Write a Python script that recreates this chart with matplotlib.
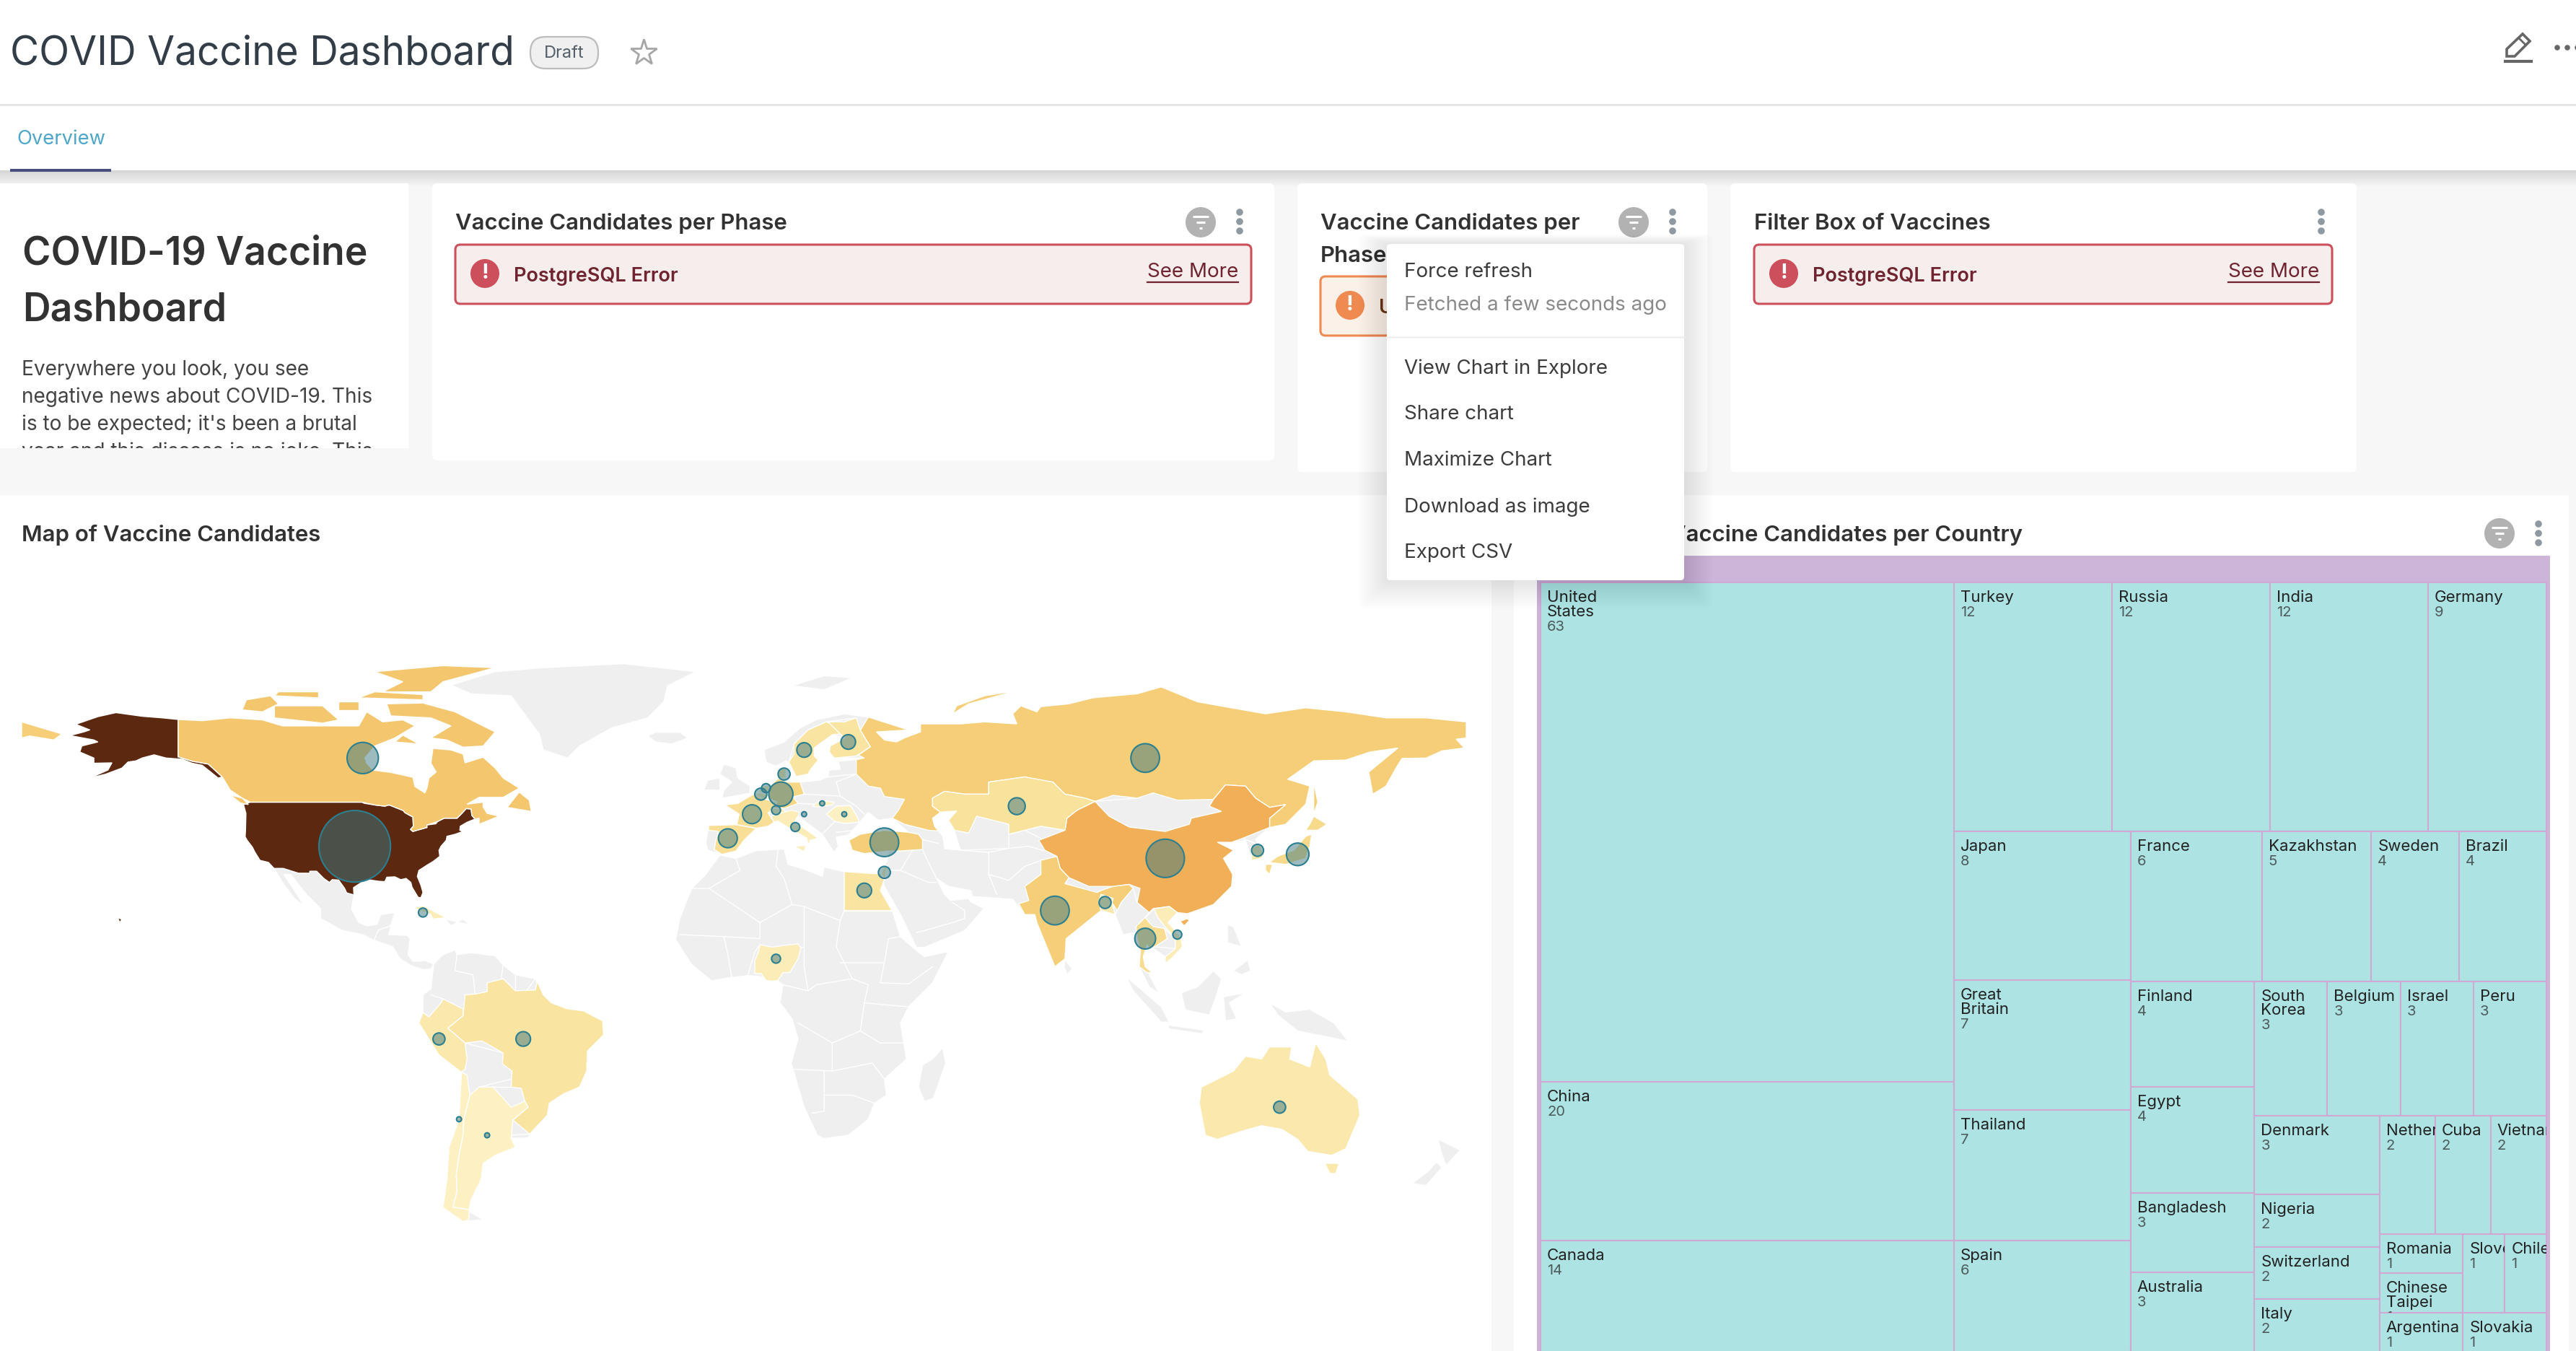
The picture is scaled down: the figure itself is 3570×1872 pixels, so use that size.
import matplotlib
matplotlib.use("Agg")
import matplotlib.pyplot as plt
from matplotlib.patches import Rectangle, FancyBboxPatch, Circle, Polygon
from matplotlib.colors import LinearSegmentedColormap
import numpy as np

plt.rcParams['font.family'] = ['Inter', 'DejaVu Sans']

# --- treemap data (sorted the way the chart sorts them) ---
countries = ["United States", "China", "Canada", "Turkey", "Russia", "India", "Germany",
             "Japan", "Great Britain", "Thailand", "Spain", "France", "Kazakhstan", "Sweden", "Brazil",
             "Finland", "Egypt", "Bangladesh", "Australia", "South Korea", "Belgium", "Israel", "Peru",
             "Denmark", "Nigeria", "Switzerland", "Italy", "Netherlands", "Cuba", "Vietnam",
             "Romania", "Chinese Taipei", "Argentina", "Slovenia", "Chile", "Slovakia"]
candidates = [63, 20, 14, 12, 12, 12, 9, 8, 7, 7, 6, 6, 5, 4, 4, 4, 4, 3, 3, 3, 3, 3, 3,
              3, 2, 2, 2, 2, 2, 2, 1, 1, 1, 1, 1, 1]
counts = dict(zip(countries, candidates))

# --- bubble centres, lon / lat ---
bubble_names = ["United States", "China", "Canada", "Turkey", "Russia", "India", "Germany", "Japan",
                "Thailand", "Spain", "France", "Kazakhstan", "Sweden", "Brazil", "Finland", "Egypt",
                "Bangladesh", "Australia", "South Korea", "Belgium", "Israel", "Peru", "Denmark",
                "Nigeria", "Switzerland", "Italy", "Netherlands", "Cuba", "Vietnam", "Romania",
                "Argentina", "Slovenia", "Chile", "Slovakia"]
bubble_lon = [-97, 105, -95, 35, 100, 77.5, 9.2, 138, 100, -4, 2, 68, 15, -55, 26, 30, 90, 133.5, 128,
              4.2, 35, -76, 10, 8, 8, 12.8, 5.5, -80, 108, 25, -64, 15, -71, 19.5]
bubble_lat = [38, 35, 60, 39, 60, 22, 51, 36, 15, 40, 46, 48, 62, -10, 64, 27, 24, -27, 37,
              51, 31.5, -10, 56, 10, 47, 42.8, 52.5, 21.5, 16, 46, -34, 46, -30, 48.7]

# --- country outlines, lon / lat ---
eurasia = [(-9,37),(-9.5,38.8),(-8.8,43.2),(-1.8,43.4),(-1.2,46),(-4.7,48.3),(-1.5,48.7),(1.5,50.5),(3.5,51.4),(4.7,53),(8,53.7),(8.5,55.5),(8.2,57),(10.5,57.7),(10.5,55.5),(11,54),(14,54),(19,54.5),(21,55.3),(21.2,57),(24,57.2),(23.5,59.2),(28,59.6),(30,60),(25,60),(22.5,60),(21.3,61.5),(21.5,63),(25.2,65),(22,65.8),(17.5,62.5),(17.5,60.5),(18.5,59.5),(16.5,57),(16,56),(13,55.4),(11.5,58.5),(10.5,59.3),(8,58),(5.5,59),(5,62),(10,64),(14,67.5),(18,69.5),(25,71),(31,70.2),(41,67),(33,66.5),(35,64.5),(38,64),(40,65),(44,66.5),(44,68.5),(54,68.5),(60,69),(68,68.5),(67,71),(69,73),(73,71.5),(74,72.8),(81,73.5),(87,75),(98,76),(104,77.7),(113,74),(130,71),(140,72.5),(150,71.5),(160,70),(170,70),(180,69),(180,65),(177.5,64.7),(179.5,62.5),(174,61.8),(170,60),(164,59.9),(162.5,57.5),(160,53),(156.7,51),(155.7,56.5),(163,62.5),(156,61.5),(150,59.5),(142,59.3),(135.5,54.7),(141,53),(140,48.5),(135,43.5),(131,42.7),(127.5,39.8),(129.5,36),(129,35),(126.5,34.5),(125,39.5),(121.5,39),(118,39),(122,37),(119.5,35),(121.8,31),(121.5,28),(117,23.5),(110.5,21.2),(108,21.5),(105.7,19),(108.8,15.5),(109.3,13),(107,10.5),(105,8.8),(105,10.5),(100.5,13.5),(99.5,10.5),(100,8),(103.5,1.3),(101,3),(98.5,8),(98.8,12),(97.5,16.5),(94.5,16),(92.5,21),(89,22),(86.5,20),(80.3,15),(80,10),(77.5,8),(73,19),(72.5,21),(70,21),(67,24.8),(57,25.5),(56.5,27),(51,28),(48,30),(50,26),(51.5,24.5),(56,25),(56.5,24.2),(59.8,22.5),(55,17),(45,12.8),(43,12.8),(39,21),(35,28),(34.2,31.2),(35.8,35),(36,36.8),(30,36.2),(27,37),(26.2,39.5),(29,41),(35,42),(41,41.5),(37,45),(33.5,44.5),(31,46.5),(28,43),(26,40.8),(23,40.3),(23.5,38),(22.5,36.5),(19.5,41),(13.5,45.5),(12.5,44),(16,41.8),(18.5,40),(16.5,39.5),(16,38),(15.7,40),(10.5,43),(8.5,44.3),(6,43),(3.1,42.5),(0,39.5),(-2,36.8),(-5.5,36)]
africa = [(-6,35.8),(-2,35),(3,36.9),(10,37.3),(11,33.5),(15,32.3),(19.5,30.5),(20,32.8),(25,31.7),(32,31.2),(34.2,31.2),(32.5,29.5),(34,27),(37,21.8),(39,15.5),(43,12),(45,10.5),(51,11.8),(47,4),(41,-2),(39,-6),(40.5,-15),(35,-20),(35.5,-24),(32.5,-26),(31,-30),(26,-34),(20,-34.8),(18.3,-34),(15,-27),(11.8,-16),(13.5,-10),(12,-5),(9,-1),(9.7,3.5),(8.5,4.5),(5,5.5),(1,5.8),(-4,5.2),(-8,4.5),(-13,8.5),(-17,14.7),(-16,20),(-13,27.5),(-9.5,31)]
south_america = [(-77.3,8.7),(-75,11),(-72,12.2),(-71.5,11),(-68,11.5),(-62,10.7),(-60,8.5),(-57,6),(-52,5),(-50,1),(-48,-1),(-44,-2.5),(-40,-3),(-35.2,-5.5),(-35,-9),(-39,-13),(-39.2,-18),(-41,-22),(-45,-23.7),(-48.5,-26),(-49,-29),(-52,-32.5),(-54,-34.7),(-58,-34.7),(-57,-37),(-62,-39),(-65,-41),(-65.5,-45),(-68,-50),(-68.5,-53),(-65,-55),(-70,-55.5),(-75,-52),(-74,-45),(-73.5,-37),(-71,-30),(-70,-18.5),(-76,-14),(-81,-6),(-80,-3),(-80,1),(-78,2.5),(-77.5,7)]
mexico = [(-117.1,32.5),(-114.8,32.5),(-111,31.3),(-108.2,31.3),(-108.2,31.8),(-106.5,31.8),(-104.7,30),(-103.3,29),(-102.6,29.7),(-101,29.6),(-99.5,27.5),(-99,26.4),(-97.2,25.9),(-97.8,22.4),(-96,19),(-94,18.2),(-91.5,18.5),(-90.5,21),(-87,21.5),(-88,18.3),(-89,17.8),(-91,17.2),(-92.2,14.6),(-95,16),(-100,17),(-105.5,20),(-105.5,22.5),(-109,26),(-113,31),(-114.7,31),(-112,27),(-109.5,23),(-112,25),(-115,29)]
central_america = [(-92.2,14.6),(-91,17.2),(-89,17.8),(-88,18.3),(-88.5,16),(-84,15.8),(-83.2,15),(-83.7,11),(-82.5,9.3),(-79.5,9.5),(-77.3,8.7),(-78,7.5),(-80,7.3),(-83,8.3),(-85.7,10),(-87.5,13)]
greenland = [(-73,78.2),(-68,76),(-58,75.5),(-54,70),(-51,66),(-50,62),(-44,60),(-41,63),(-33,67.5),(-24,70),(-20,74),(-19,78),(-12,81.5),(-30,83.5),(-50,82.5),(-62,81.5)]
grey_islands = [
    [(-24,65.5),(-22,64),(-18,63.5),(-14,65),(-16,66.4),(-22,66.4)],  # Iceland
    [(-5.5,50),(1.5,51.2),(1.5,53),(-1.5,55),(-2,57.5),(-5,58.5),(-6,56),(-3,54),(-5,52)],  # Britain
    [(-10,52),(-6,52),(-6,55),(-9,54.5)],
    [(12,78),(20,80.5),(27,80),(20,77)],
    [(49.5,-12.2),(50.3,-16),(47.2,-24.8),(45,-25.5),(43.5,-22),(44.5,-16.5),(47,-15)],  # Madagascar
    [(95.3,5.5),(104,-2),(106,-5.8),(104,-5.8),(97,2)],
    [(105.5,-6.5),(114.5,-7.8),(114.3,-8.7),(106,-7.5)],
    [(109,1.5),(113,3),(117,7),(119,5),(117.8,1),(116,-4),(110,-2.8)],
    [(119.5,0.5),(125,1.5),(121,-1),(122.8,-5),(120,-5.5)],
    [(131,-1),(135,-3.3),(141,-2.6),(147,-6),(150.5,-10.5),(143,-9),(138,-8),(133,-4)],
    [(120.5,18.5),(122,18),(124,13),(120.5,14)],
    [(122,7),(125.5,9.7),(126.3,7),(124,6)],
    [(80,9.7),(81.8,7.5),(80.6,6),(79.8,8)],
    [(173,-35),(178.5,-37.7),(175,-41.5),(174,-39)],
    [(172.5,-40.7),(174,-42),(170,-46.5),(166.5,-46),(170.5,-43)],
    [(-74.5,19.9),(-68.5,18.5),(-70,19.9),(-73,18.2)],
]
caspian = [(49,46.5),(47,45),(47.5,43),(49.5,40.5),(50,37.3),(54,37),(52.5,42),(51,44.5),(53,46.8)]

usa = [[(-124.7,48.4),(-123,49),(-95.2,49),(-94.6,48.7),(-92,48.3),(-89.5,48),(-88.4,48.3),(-84.9,46.9),(-84.5,46.4),(-83.5,45.8),(-82.5,45.3),(-82.4,43),(-83.1,42.2),(-82.5,41.7),(-79,42.7),(-79.1,43.3),(-76.8,43.6),(-76.3,44.2),(-74.7,45),(-71.5,45),(-70.3,46.2),(-69.2,47.4),(-68,47.3),(-67.8,45.7),(-67,44.8),(-69,44),(-70.7,43),(-70.8,42),(-70,41.7),(-72,41),(-74,40.5),(-74.2,39.5),(-75.5,38),(-76,37),(-75.8,35.5),(-77.5,34.2),(-79,33.3),(-81,32),(-81.4,30.5),(-80.5,28.3),(-80,26.5),(-80.5,25.2),(-81.2,25.3),(-82.7,27.8),(-83,29),(-84.2,30),(-85.5,29.7),(-87,30.4),(-89,30.3),(-89.5,29.2),(-91,29.3),(-93.8,29.7),(-95,29.2),(-97.3,27.7),(-97.2,25.9),(-99,26.4),(-99.5,27.5),(-101,29.6),(-102.6,29.7),(-103.3,29),(-104.7,30),(-106.5,31.8),(-108.2,31.8),(-108.2,31.3),(-111,31.3),(-114.8,32.5),(-117.1,32.5),(-118.5,34),(-120.6,34.5),(-121.9,36.6),(-122.5,37.8),(-123.8,39.5),(-124.3,40.4),(-124.2,42),(-124.1,46.2)],
       [(-141,69.6),(-145,70),(-150,70.4),(-156.5,71.3),(-161,70.3),(-166.5,68.4),(-163,67),(-164.5,66.5),(-168,65.6),(-162,64.5),(-161,64),(-165,63),(-165.5,61.5),(-162,60),(-162,58.7),(-157.5,58.8),(-158.5,57),(-163,55),(-159,56),(-155,57.5),(-153.5,59),(-151.5,59.3),(-150,60),(-147,60.8),(-144,60),(-140,59.7),(-137.5,58.7),(-135,58.2),(-131,55),(-130,55.3),(-133.5,58.5),(-137.5,59.2),(-141,60.3)],
       [(-156,20.2),(-155,19.8),(-155.6,19)]]
canada = [[(-141,69.6),(-135,69.3),(-128,70),(-120,69.5),(-115,68),(-108,68),(-102,68),(-96,68),(-94,71.5),(-90,69),(-85,69.5),(-82,68),(-87,65),(-92,63),(-94.5,60),(-94,58.7),(-92.5,57),(-88,56.4),(-82.5,55.2),(-82,52.9),(-79.5,51.3),(-79,52.5),(-78.5,55),(-76.7,56.5),(-78,58.7),(-77.5,62.4),(-73,62),(-70,61),(-69.5,58.8),(-65,60.2),(-62,57.5),(-60,55),(-56,52.5),(-60,50.2),(-66,50.2),(-69,48.5),(-65,49),(-65,47.8),(-64,46.2),(-61,45.5),(-66,43.5),(-66,45),(-67,44.8),(-67.8,45.7),(-68,47.3),(-69.2,47.4),(-70.3,46.2),(-71.5,45),(-74.7,45),(-76.3,44.2),(-79,43.3),(-79,42.7),(-82.5,41.7),(-83.1,42.2),(-82.4,43),(-82.5,45.3),(-84.5,46.4),(-84.9,46.9),(-88.4,48.3),(-89.5,48),(-92,48.3),(-95.2,49),(-123,49),(-125,50),(-128,52),(-130,55.3),(-133.5,58.5),(-137.5,59.2),(-141,60.3)],
          [(-80,73.7),(-72,71.5),(-67,69),(-62,66.5),(-65,63),(-70,62.7),(-74,64.5),(-78,65),(-73,68),(-78,70),(-88,70.5),(-89,73.5)],
          [(-117,70),(-105,68.7),(-101,69.5),(-105,73),(-117,73)],
          [(-125,72),(-120,71.5),(-116,73.5),(-118,75.5),(-124,74.5)],
          [(-90,76.5),(-78,76.5),(-75,79),(-62,82.5),(-75,83),(-92,81.5),(-85,79)],
          [(-96,75),(-80,74.5),(-80,75.8),(-92,76.5)],
          [(-117,75.5),(-106,75),(-106,76.5),(-116,76.5)],
          [(-101,72),(-96,72),(-96,74),(-101,74)],
          [(-87,64),(-81,63.5),(-85,65.7)],
          [(-59,47.7),(-53,46.7),(-53.5,49.5),(-56,51.5)],
          [(-128,50.8),(-125,50),(-123.5,48.4),(-125.5,48.8)]]
russia = [[(28,59.6),(30,60),(28.5,60.7),(31.5,62.8),(29,66.9),(31,70.2),(41,67),(33,66.5),(35,64.5),(38,64),(40,65),(44,66.5),(44,68.5),(54,68.5),(60,69),(68,68.5),(67,71),(69,73),(73,71.5),(74,72.8),(81,73.5),(87,75),(98,76),(104,77.7),(113,74),(130,71),(140,72.5),(150,71.5),(160,70),(170,70),(180,69),(180,65),(177.5,64.7),(179.5,62.5),(174,61.8),(170,60),(164,59.9),(162.5,57.5),(160,53),(156.7,51),(155.7,56.5),(163,62.5),(156,61.5),(150,59.5),(142,59.3),(135.5,54.7),(141,53),(140,48.5),(135,43.5),(131,42.7),(131,45),(135,48.4),(131,47.7),(127.5,50),(125,53),(120,53.3),(117,49.7),(108,49.5),(102,51.3),(98,50),(92,50.7),(87.5,49.2),(85,50),(80,51),(77,54),(71,55),(70,55.3),(61,54),(61,51),(55,51),(50,51.7),(47,50),(47,48),(49,46.5),(47,45),(47.5,43),(48.5,41.8),(46,42),(40,43.5),(37,45),(38.5,47),(40,49.7),(35,50.4),(34,52.5),(31,53),(28,56)],
          [(52,71),(56,73.5),(68,76.8),(60,75.5),(53,73)],
          [(142,54),(143,49),(142,46),(142,50)],
          [(-180,69),(-175,67.5),(-170,66),(-172,64.5),(-178,65.5),(-180,65)]]
china = [[(73.5,39.5),(80,42),(80.5,45),(83,47),(87.5,49.2),(91,45.5),(96,42.8),(105,41.7),(111,43.5),(111.5,45),(119,46.7),(116,48),(117,49.7),(120,53.3),(125,53),(127.5,50),(131,47.7),(135,48.4),(131,45),(131,42.7),(128,41.5),(124.3,40),(121.5,39),(118,39),(122,37),(119.5,35),(121.8,31),(121.5,28),(117,23.5),(110.5,21.2),(108,21.5),(106,23),(102,22.5),(101,21.5),(98,24),(98.7,27.5),(96,28.5),(92,28),(86,28),(81,30.2),(78.8,32.5),(78,35.5),(75,37)],
         [(108.7,19.3),(110.5,20),(111,19.5),(109.7,18.2)]]
india = [[(74,34.5),(78,35.5),(78.8,32.5),(81,30.2),(80,28.7),(88,26.5),(89,27),(92,28),(96,28.5),(97,27.5),(94,24),(93,22),(91.7,24),(92,25),(89,26),(88.5,24),(89,22),(86.5,20),(80.3,15),(80,10),(77.5,8),(73,19),(72.5,21),(70,21),(68.5,23.7),(71,24.5),(70,28),(74,31)]]
bangladesh = [[(88.5,24.5),(89,26),(92,25),(91.7,24),(92.5,21),(89,22)]]
kazakhstan = [[(47,48),(47,50),(50,51.7),(55,51),(61,51),(61,54),(70,55.3),(77,54),(80,51),(85,50),(87.5,49.2),(83,47),(80.5,45),(80,42),(74,43),(70,42),(66,41),(66,43.5),(58,45.5),(56,41.3),(52.5,42),(51,44.5),(53,46.8),(49,46.5)]]
turkey = [[(26.2,39.5),(27,37),(30,36.2),(36,36.8),(38,36.8),(44.5,37.2),(44.5,39.7),(43.5,41),(41,41.5),(35,42),(29,41)]]
japan = [[(130.9,34),(135,33.5),(140,35),(141,38),(141.5,41),(140,40.5),(137,37),(133,35.5)],
         [(140,42),(143,42),(145.3,43.5),(142,45.5),(141,43.5)],
         [(130,33.5),(131.7,33.5),(131,31),(130,32)]]
south_korea = [[(126.2,37.7),(128.5,38.5),(129.5,36),(129,35),(126.5,34.5),(126.5,36.5)]]
thailand = [[(98,15),(97.7,18),(100,20.3),(101,19),(102,18),(104.8,17.5),(105.5,15),(102.5,13),(101,12.7),(100.5,13.5),(99.5,10.5),(100,8),(101.8,6.5),(100.5,6.5),(98.5,8),(98.8,12)]]
vietnam = [[(102.2,22.4),(106,23),(108,21.5),(105.7,19),(108.8,15.5),(109.3,13),(107,10.5),(105,8.8),(105,10.5),(107.5,12.5),(107.5,15),(104.5,18.5),(103,20.5)]]
australia = [[(114,-22),(113.5,-26),(115,-34),(118,-35),(124,-33),(129,-31.6),(134,-32.5),(138,-35),(140.5,-38),(146.5,-39),(150,-37.3),(153.5,-29),(153,-25),(146,-19),(145,-15),(142.5,-11),(141,-17),(136,-15),(136.5,-12),(131,-12),(129,-15),(125,-14.3),(122,-18)],
             [(144.8,-41),(148.3,-41),(147.5,-43.5),(146,-43.5)]]
brazil = [[(-60,5),(-57,2),(-52,2.2),(-51.5,4.3),(-50,1),(-48,-1),(-44,-2.5),(-40,-3),(-35.2,-5.5),(-35,-9),(-39,-13),(-39.2,-18),(-41,-22),(-45,-23.7),(-48.5,-26),(-49,-29),(-53.4,-33.7),(-57.6,-30.2),(-53.8,-27),(-54.6,-25.5),(-55.5,-22.3),(-58,-22),(-57.8,-18),(-60.2,-16.2),(-60,-13.5),(-65.3,-10.5),(-69.5,-11),(-73.8,-7.3),(-70,-4.2),(-69.5,1),(-66.9,1.2),(-64,1.8),(-64,4)]]
peru = [[(-81,-6),(-80,-3.4),(-78.5,-4.5),(-75.5,-1),(-75,0),(-70,-2.5),(-70,-4.2),(-73.8,-7.3),(-69.5,-11),(-69,-15),(-69.5,-17.5),(-70.4,-18.3),(-76,-14)]]
chile = [[(-70.4,-18.3),(-69,-19),(-68.3,-24),(-69.8,-30),(-70,-34),(-71,-39),(-71.7,-44),(-71.5,-48),(-72.5,-51.9),(-68.5,-52.5),(-68.5,-55),(-70,-55.5),(-75,-52),(-74,-45),(-73.5,-37),(-71,-30)]]
argentina = [[(-66,-22),(-62.5,-22),(-58,-27),(-54.6,-25.5),(-53.8,-27),(-57.6,-30.2),(-58,-34.7),(-57,-37),(-62,-39),(-65,-41),(-65.5,-45),(-68,-50),(-68.5,-52.5),(-72.5,-51.9),(-71.5,-48),(-71.7,-44),(-71,-39),(-70,-34),(-69.8,-30),(-68.3,-24)]]
egypt = [[(25,31.7),(32,31.2),(34.2,31.2),(34.9,29.5),(34,27),(36.9,22),(25,22)]]
nigeria = [[(2.7,6.3),(4.3,6.3),(5.5,4.6),(7,4.4),(8.5,4.6),(9.7,6.5),(11.5,6.6),(13.5,10),(14.2,12.7),(13.5,13.7),(10,13.3),(7,12.9),(4,13.5),(3.6,11.7),(2.7,9.5)]]
cuba = [[(-85,22),(-80,23.2),(-74.2,20.2),(-77.5,19.9),(-78,21),(-82,22.5)]]
spain = [[(-8.8,43.2),(-1.8,43.4),(3.1,42.5),(0,39.5),(-2,36.8),(-5.5,36),(-7.4,37.2),(-7,39.5),(-6.3,41.7),(-8.8,42)]]
france = [[(-1.8,43.4),(-1.2,46),(-4.7,48.3),(-1.5,48.7),(1.5,50.5),(2.5,51),(4.2,50),(8.2,49),(7.5,47.5),(6,46.3),(7.5,44),(6,43),(3.1,42.5)]]
germany = [[(6,51),(7,53.5),(8.5,54.9),(11,54),(14,54),(15,51),(12.2,50.3),(13.5,48.7),(10,47.4),(7.5,47.5),(8.2,49),(6,50)]]
sweden = [[(11.2,59),(13,55.4),(16,56),(16.5,57),(18.5,59.5),(17.5,60.5),(17.5,62.5),(22,65.8),(24,66),(23.5,68),(20.5,69),(16,67),(12.5,63.5),(12.5,61)]]
finland = [[(22.5,60),(28,60.5),(31.5,62.8),(29,66.9),(28,70),(25,69),(21,69),(24,66),(25.2,65),(21.5,63),(21.3,61.5)]]
denmark = [[(8.5,55),(8.2,57),(10.5,57.7),(10.5,55)]]
italy = [[(6.8,45.5),(8.5,46.2),(12,47),(13.7,46.5),(13.5,45.5),(12.5,44),(16,41.8),(18.5,40),(16.5,39.5),(16,38),(15.7,40),(10.5,43),(8.5,44.3),(7.5,44)],
         [(12.5,38),(15.5,38.2),(15,36.7)]]
romania = [[(20.5,46),(23,48),(26.5,48.2),(28.2,45.5),(28.7,44),(25,43.7),(22.7,44.2)]]
slovakia = [[(17,48),(19,49.5),(22.5,49),(22,48.3),(18.5,47.8)]]
israel = [[(34.3,31.3),(35.1,33.2),(35.7,33),(35,29.5)]]
belgium = [[(2.5,51),(4.2,51.4),(6,50.7),(5.8,49.6),(4.2,50)]]
netherlands = [[(3.5,51.4),(4.7,53),(7,53.3),(6,51),(4.2,51.4)]]
switzerland = [[(6,46.3),(7.5,47.5),(9.5,47.5),(10.4,46.6),(8.5,46)]]

map_shapes = {"United States": usa, "Canada": canada, "Russia": russia, "China": china, "India": india,
              "Bangladesh": bangladesh, "Kazakhstan": kazakhstan, "Turkey": turkey, "Japan": japan,
              "South Korea": south_korea, "Thailand": thailand, "Vietnam": vietnam, "Australia": australia,
              "Brazil": brazil, "Peru": peru, "Chile": chile, "Argentina": argentina, "Egypt": egypt,
              "Nigeria": nigeria, "Cuba": cuba, "Spain": spain, "France": france, "Germany": germany,
              "Sweden": sweden, "Finland": finland, "Denmark": denmark, "Italy": italy, "Romania": romania,
              "Slovakia": slovakia, "Israel": israel, "Belgium": belgium, "Netherlands": netherlands,
              "Switzerland": switzerland}

# white borders between the grey countries
grey_borders = [
    [(-13,27.5),(-8.7,27.5),(-1,32),(-2,35)], [(-8.7,27.5),(4,19),(12,23.5),(10,30),(8,33),(8.5,37)],
    [(-16,16),(-5,15.5),(4,15),(4,19)], [(12,23.5),(15,23),(24,19.5),(25,22)], [(25,22),(25,31.7)],
    [(15,23),(15,13),(14.2,12.7)], [(24,19.5),(23,13),(27,5),(31,3.5),(30,-1),(29,-8),(22,-11),(13.5,-6)],
    [(25,22),(36.9,22)], [(24,9),(35,9),(34,4),(41,3.7),(47,8)], [(35,9),(36,15),(39,15.5)],
    [(30,-1),(41,-2)], [(29,-8),(34,-11),(40.5,-11)], [(22,-11),(22,-18),(12,-17.5)], [(20,-18),(20,-28),(17,-28.5)],
    [(22,-18),(32,-16),(35,-20)], [(20,-24),(27,-24),(32.5,-26)], [(-5,15.5),(-4,11),(-3,5)], [(1,6),(2.7,11.7),(4,13.5)],
    [(9.7,3.5),(16,2),(18,3.5),(27,5)], [(15,13),(15,8),(16,2)],
    [(36,36.8),(42,37),(39,32),(36,32),(35,29.5)], [(44.5,37.2),(46,34),(48,30)], [(39,32),(46,29),(48,29)],
    [(52,24),(55,22),(55,20),(52,19),(45,17),(43,16.5)], [(44.5,39.7),(48.5,38.7)], [(54,37),(61,36.5),(61,31),(63,26)],
    [(61,36.5),(66,37.5),(71,38),(74.5,37)], [(61,31),(66,29.5),(70,33),(74,34.5)], [(54,37),(66,37.5),(66,41)],
    [(66,41),(70,42),(74,40)], [(87.5,49.2),(98,50)], [(92,28),(97,27.5),(98,24),(101,21.5),(100,20.3)], [(94,24),(92.5,21)],
    [(102.2,22.4),(100,20.3)], [(104.8,17.5),(107.5,15)], [(102.5,13),(107.5,12.5)], [(124.3,40),(128,38.5)],
    [(28,56),(21,55.3)], [(14,54),(15,51),(24,50.5),(23,54),(28,56)], [(24,50.5),(28,48),(30,46)], [(13.5,48.7),(17,48.5),(22,48.3)],
    [(19.5,41),(22.7,44.2)], [(23,41.5),(28,42)], [(11.2,59),(12.5,63.5),(16,67),(20.5,69),(28,70)],
    [(-71.5,11),(-72,7),(-67.5,6),(-67,1.2)], [(-60,8.5),(-60.5,5)], [(-57,6),(-57,2)], [(-52,5),(-54,2.2)],
    [(-78,1),(-75,0)], [(-69.5,-11),(-60,-13.5)], [(-66,-22),(-58,-20)], [(-58,-22),(-62.5,-22)], [(-53.4,-33.7),(-58,-34)],
]

# map scale: bins between these anchors give the fill colour
scale_values = [1, 4, 12, 20, 63]
scale_colors = ["#fdf0c2", "#fae4a0", "#f5ce77", "#f1b057", "#5c2810"]
country_cmap = LinearSegmentedColormap.from_list(
    "vaccines", [((v - 1) / 62, c) for v, c in zip(scale_values, scale_colors)])

GREY = "#efefef"
DARK = "#323232"

fig = plt.figure(figsize=(35.7, 18.72), dpi=100, facecolor="#f7f7f7")
ax = fig.add_axes([0, 0, 1, 1], zorder=0)
ax.set_xlim(0, 3570)
ax.set_ylim(1872, 0)
ax.axis("off")


def box(x0, y0, x1, y1, fc="white", ec="none", lw=0, r=0, z=1, alpha=None):
    if r > 0:
        p = FancyBboxPatch((x0, y0), x1 - x0, y1 - y0, boxstyle=f"round,pad=0,rounding_size={r}",
                           fc=fc, ec=ec, lw=lw, zorder=z, alpha=alpha)
    else:
        p = Rectangle((x0, y0), x1 - x0, y1 - y0, fc=fc, ec=ec, lw=lw, zorder=z, alpha=alpha)
    ax.add_patch(p)
    return p


def label(x, y, s, size=18, color=DARK, weight="normal", ha="left", z=3, clip=None):
    t = ax.text(x, y + 2, s, fontsize=size, color=color, fontweight=weight, ha=ha, va="center", zorder=z)
    if clip is not None:
        t.set_clip_path(clip)
        t.set_clip_on(True)
    return t


def filter_icon(x, y):
    ax.add_patch(Circle((x, y), 21, fc="#b2b2b2", ec="none", zorder=3))
    for w, dy in zip([22, 12, 4], [-8, 0, 8]):
        ax.plot([x - w / 2, x + w / 2], [y + dy, y + dy], color="white", lw=2.2, zorder=4, solid_capstyle="butt")


def dots_icon(x, y):
    for dy in [-13, 0, 13]:
        ax.add_patch(Circle((x, y + dy), 4.8, fc="#8e99a2", ec="none", zorder=3))


def alert(x0, y0, x1, y1, fc, ec, text, text_color, more=True):
    box(x0, y0, x1, y1, fc=fc, ec=ec, lw=2.2, r=7, z=2)
    cy = (y0 + y1) / 2 - 1
    ax.add_patch(Circle((x0 + 41, cy), 20, fc=ec, ec="none", zorder=3))
    label(x0 + 41, cy - 3, "!", size=21, color="white", weight="bold", ha="center", z=4)
    label(x0 + 81, cy + 2, text, size=19.5, color=text_color, weight="semibold")
    if more:
        label(x1 - 18, cy - 4, "See More", size=20, color=text_color, ha="right")
        ax.plot([x1 - 144, x1 - 18], [cy + 12, cy + 12], color=text_color, lw=1.6, zorder=3)


# --- header ---
box(0, 0, 3570, 236, z=1)
for i in range(11):
    box(0, 236, 3570, 236 + 2 * (i + 1), fc="black", alpha=0.012, z=0.6)
ax.plot([0, 3570], [145, 145], color="#e2e2e2", lw=1.8, zorder=2)
label(14, 73, "COVID Vaccine Dashboard", size=39.6, color="#323d47")
box(735, 51, 829, 95, fc="#f0f0f0", ec="#bcbcbc", lw=1.6, r=21, z=2)
label(782, 72, "Draft", size=17, color="#55606a", ha="center")
ax.plot([892], [73], marker="*", ms=27, mfc="none", mec="#a6a6a6", mew=2, zorder=3)
label(23, 191, "Overview", size=19.7, color="#4ea6c8")
box(14, 234, 154, 238, fc="#484f7e", z=3)

# pencil and overflow dots, top right
ax.add_patch(Polygon([(3474, 78), (3474, 68), (3496, 47), (3506, 57), (3485, 78)], closed=True,
                     fc="none", ec="#666666", lw=2.6, zorder=3))
ax.plot([3491, 3500], [53, 62], color="#666666", lw=2, zorder=3)
ax.plot([3472, 3508], [85, 85], color="#666666", lw=3, zorder=3)
for x in [3544, 3558, 3572]:
    ax.add_patch(Circle((x, 66), 3.8, fc="#666666", ec="none", zorder=3))

# --- first row of panels ---
text_panel = box(0, 254, 566, 621, z=1)
box(599, 254, 1766, 638, r=7)
box(1798, 254, 2366, 654, r=7)
box(2398, 254, 3266, 654, r=7)

label(31, 350, "COVID-19 Vaccine", size=38.5, weight="semibold")
label(31, 428, "Dashboard", size=38.5, weight="semibold")
body_lines = ["Everywhere you look, you see", "negative news about COVID-19. This",
              "is to be expected; it's been a brutal", "year and this disease is no joke. This"]
for i, line in enumerate(body_lines):
    label(30, 510 + 38 * i, line, size=20.2, color="#444444", clip=text_panel)

label(631, 308, "Vaccine Candidates per Phase", size=22.4, weight="semibold")
filter_icon(1664, 308)
dots_icon(1718, 307)
alert(631, 339, 1734, 421, "#f6eded", "#cc4f5b", "PostgreSQL Error", "#6f2430")

label(1830, 308, "Vaccine Candidates per", size=22.4, weight="semibold")
label(1830, 353, "Phase", size=22.4, weight="semibold")
filter_icon(2264, 308)
dots_icon(2318, 307)
alert(1830, 383, 2300, 465, "#fbf1e9", "#ef8a50", "Unexpected error", "#6b3a1c", more=False)

label(2431, 308, "Filter Box of Vaccines", size=22.4, weight="semibold")
dots_icon(3217, 307)
alert(2431, 339, 3232, 421, "#f6eded", "#cc4f5b", "PostgreSQL Error", "#6f2430")

# --- second row of panels ---
box(0, 686, 2067, 1872)
box(2098, 686, 3560, 1872)
label(30, 739, "Map of Vaccine Candidates", size=22.4, weight="semibold")
label(2314, 739, "Vaccine Candidates per Country", size=22.4, weight="semibold")
filter_icon(3464, 739)
dots_icon(3518, 739)


# --- treemap, same squarified layout d3 gives ---
def squarify(values, x0, y0, x1, y1, ratio=(1 + 5 ** 0.5) / 2):
    rects = []
    remaining = float(sum(values))
    i0, n = 0, len(values)
    while i0 < n:
        dx, dy = x1 - x0, y1 - y0
        i1 = i0 + 1
        total = min_v = max_v = values[i0]
        alpha = max(dy / dx, dx / dy) / (remaining * ratio)
        beta = total * total * alpha
        min_ratio = max(max_v / beta, beta / min_v)
        while i1 < n:
            v = values[i1]
            t = total + v
            beta = t * t * alpha
            new_ratio = max(max(max_v, v) / beta, beta / min(min_v, v))
            if new_ratio > min_ratio:
                break
            total, min_v, max_v, min_ratio = t, min(min_v, v), max(max_v, v), new_ratio
            i1 += 1
        row = values[i0:i1]
        if dx < dy:
            h = dy * total / remaining
            x = x0
            for v in row:
                w = dx * v / total
                rects.append((x, y0, x + w, y0 + h))
                x += w
            y0 += h
        else:
            w = dx * total / remaining
            y = y0
            for v in row:
                h = dy * v / total
                rects.append((x0, y, x0 + w, y + h))
                y += h
            x0 += w
        remaining -= total
        i0 = i1
    return rects


box(2130, 770, 3534, 1880, fc="#cdb5d9", z=1.5)
for name, value, (cx0, cy0, cx1, cy1) in zip(countries, candidates, squarify(candidates, 2135, 807, 3529, 1873)):
    cell = box(cx0, cy0, cx1, cy1, fc="#aee3e3", ec="#cfa8d4", lw=1.5, z=1.6)
    words = name.split(" ")
    for i, w in enumerate(words):
        label(cx0 + 9, cy0 + 19 + 19.5 * i, w, size=16, color="#222222", clip=cell)
    label(cx0 + 9, cy0 + 40 + 19.5 * (len(words) - 1), str(value), size=14.5, color="#4d5a5a", clip=cell)

# --- world map, plain lon/lat ---
map_top, map_bottom = 87, -75
px_per_deg = 2002 / 360
map_ax = fig.add_axes([30 / 3570, 1 - (1384 - map_bottom * px_per_deg) / 1872,
                       2002 / 3570, (map_top - map_bottom) * px_per_deg / 1872], zorder=1)
map_ax.set_xlim(-180, 180)
map_ax.set_ylim(map_bottom, map_top)
map_ax.axis("off")


def draw_land(ring, color):
    map_ax.add_patch(Polygon(ring, closed=True, fc=color, ec="white", lw=1))


for ring in [eurasia, africa, south_america, mexico, central_america, greenland] + grey_islands:
    draw_land(ring, GREY)
map_ax.add_patch(Polygon(caspian, closed=True, fc="white", ec="white", lw=0.5, zorder=1.2))
for line in grey_borders:
    xs, ys = zip(*line)
    map_ax.plot(xs, ys, color="white", lw=1, zorder=1.1)
for name, rings in map_shapes.items():
    for ring in rings:
        p = Polygon(ring, closed=True, fc=country_cmap((counts[name] - 1) / 62), ec="white", lw=1, zorder=1.5)
        map_ax.add_patch(p)

# bubble radius in pixels follows the square root of the count
radius_px = 6.65 * np.sqrt([counts[n] for n in bubble_names]) - 3.2
map_ax.scatter(bubble_lon, bubble_lat, s=(2 * radius_px * 0.72) ** 2, facecolor=(0.235, 0.47, 0.5, 0.5),
               edgecolor="#2b7f90", linewidth=1.5, zorder=3)

# --- open dropdown menu sits over everything ---
menu_ax = fig.add_axes([0, 0, 1, 1], zorder=2)
menu_ax.set_xlim(0, 3570)
menu_ax.set_ylim(1872, 0)
menu_ax.axis("off")
for i in range(14):
    menu_ax.add_patch(FancyBboxPatch((1922 - 3 * i, 338 - i), 412 + 6 * i, 466 + 4 * i,
                                     boxstyle="round,pad=0,rounding_size=8", fc="black", ec="none", alpha=0.009))
menu_ax.add_patch(FancyBboxPatch((1922, 338), 412, 466, boxstyle="round,pad=0,rounding_size=5", fc="white", ec="none"))
menu_ax.plot([1922, 2334], [467, 467], color="#efefef", lw=1.8)
menu_items = ["Force refresh", "Fetched a few seconds ago", "View Chart in Explore", "Share chart",
              "Maximize Chart", "Download as image", "Export CSV"]
menu_rows = [375, 421, 509, 572, 636, 701, 764]
for item, row in zip(menu_items, menu_rows):
    menu_ax.text(1946, row + 2, item, fontsize=20, va="center",
                 color="#8a8a8a" if item.startswith("Fetched") else "#3c3c3c")

fig.savefig("out.png", dpi=100, facecolor=fig.get_facecolor())
